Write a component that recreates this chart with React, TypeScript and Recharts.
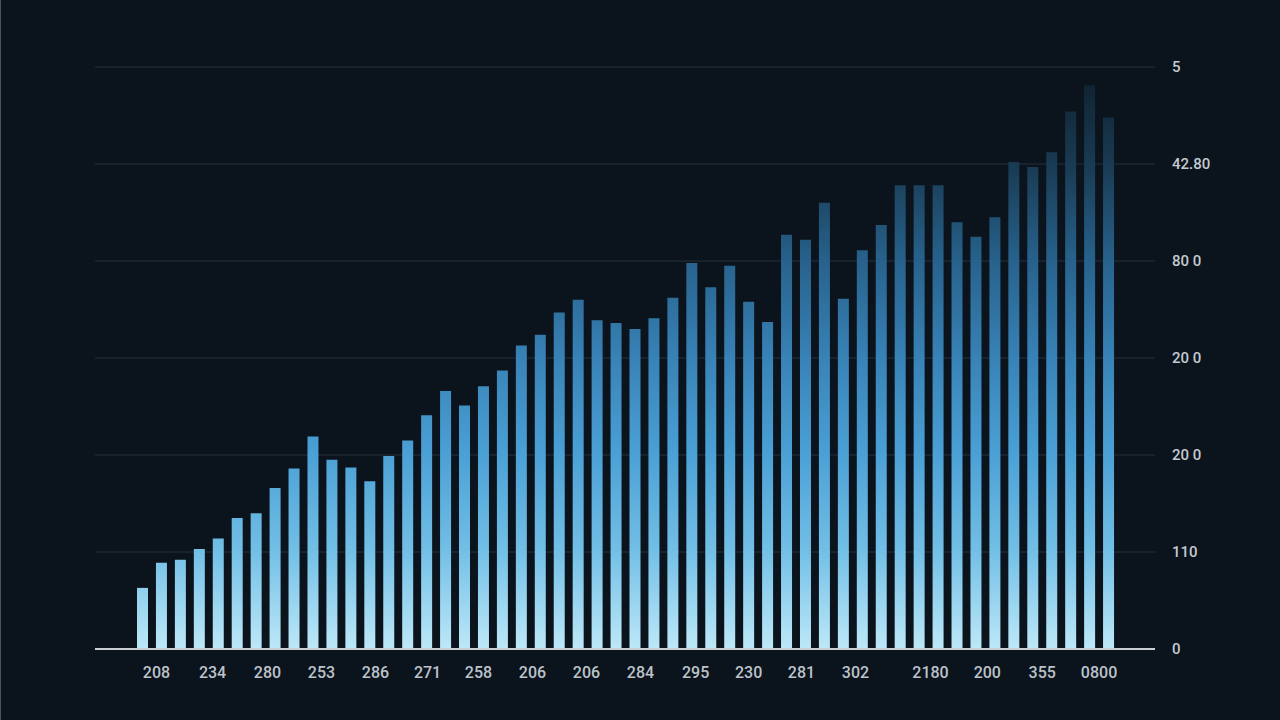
import { Bar, BarChart, CartesianGrid, XAxis, YAxis } from "recharts";

// bar heights (one gridline step = 100)
const barValues = [
  63, 89, 92, 103, 114, 135, 140, 166, 186, 219, 195, 187, 173, 199, 215, 241, 266,
  251, 271, 287, 313, 324, 347, 360, 339, 336, 330, 341, 362, 398, 373, 395, 358,
  337, 427, 422, 460, 361, 411, 437, 478, 478, 478, 440, 425, 445, 502, 497, 512,
  554, 581, 548,
];

// x labels sit between bars; positions are in bar-index units
const xTickAt = [
  0.74, 3.7, 6.6, 9.45, 12.3, 15.05, 17.74, 20.59, 23.44, 26.29, 29.2, 32.0, 34.79,
  37.64, 41.6, 44.6, 47.5, 50.5,
];
const xTickLabels = [
  "208", "234", "280", "253", "286", "271", "258", "206", "206", "284", "295", "230",
  "281", "302", "2180", "200", "355", "0800",
];

const yTicks = [0, 100, 200, 300, 400, 500, 600];
const yTickLabels = ["0", "110", "20 0", "20 0", "80 0", "42.80", "5"];

const data = barValues.map((v, i) => ({ idx: i, value: v }));

const BG = "#0b131c";

export default function App() {
  return (
    <div
      style={{
        position: "fixed",
        left: 0,
        top: 0,
        width: 1280,
        height: 720,
        background: BG,
        borderLeft: "1px solid #4b535b",
        boxSizing: "border-box",
        fontFamily: "Roboto, 'Noto Sans', sans-serif",
      }}
    >
      <BarChart
        width={1279}
        height={720}
        data={data}
        margin={{ top: 67, right: 0, bottom: 31, left: 94 }}
        barSize={11}
      >
        <defs>
          <linearGradient id="barFill" gradientUnits="userSpaceOnUse" x1="0" y1="67" x2="0" y2="649">
            <stop offset="0" stopColor="#0e1f2c" />
            <stop offset="0.17" stopColor="#193b53" />
            <stop offset="0.33" stopColor="#27618b" />
            <stop offset="0.5" stopColor="#3882b6" />
            <stop offset="0.66" stopColor="#4a9fd4" />
            <stop offset="0.83" stopColor="#72bfe6" />
            <stop offset="1" stopColor="#bde8f8" />
          </linearGradient>
        </defs>
        <CartesianGrid vertical={false} stroke="#1c2833" strokeWidth={1.5} />
        <XAxis
          xAxisId="labels"
          type="number"
          dataKey="idx"
          domain={[-0.5, 51.5]}
          allowDataOverflow
          ticks={xTickAt}
          interval={0}
          padding={{ left: 38, right: 37 }}
          tickFormatter={(_v: number, i: number) => xTickLabels[i] ?? ""}
          tickLine={false}
          axisLine={{ stroke: "#c9cfd5", strokeWidth: 2 }}
          tick={{ fill: "#bcc3ca", fontSize: 16, fontWeight: 500 }}
          tickMargin={12}
          height={40}
        />
        <XAxis
          xAxisId="bars"
          dataKey="idx"
          hide
          height={0}
          padding={{ left: 38, right: 37 }}
        />
        <YAxis
          orientation="right"
          domain={[0, 600]}
          ticks={yTicks}
          interval={0}
          tickFormatter={(_v: number, i: number) => yTickLabels[i] ?? ""}
          tickLine={false}
          axisLine={false}
          tick={{ fill: "#c4cad1", fontSize: 15, fontWeight: 500, textAnchor: "start" }}
          tickMargin={11}
          width={125}
        />
        <Bar
          xAxisId="bars"
          dataKey="value"
          fill="url(#barFill)"
          isAnimationActive={false}
        />
      </BarChart>
    </div>
  );
}
